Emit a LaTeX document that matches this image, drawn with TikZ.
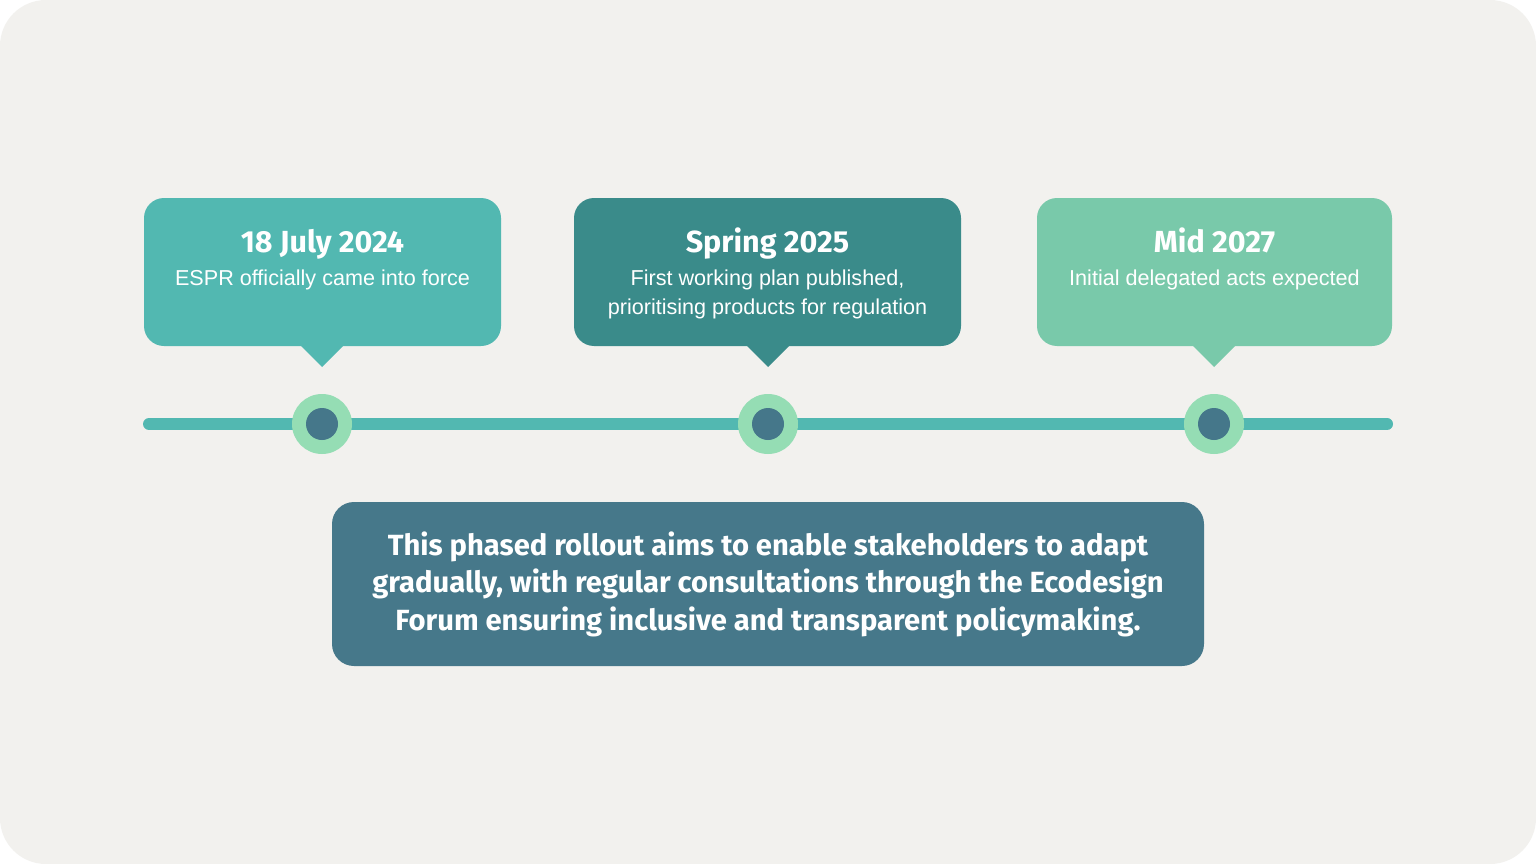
\documentclass[tikz,border=0pt]{standalone}
\usepackage{fontspec}
\setmainfont{Liberation Sans}
\newfontfamily\titlefont{Fira Sans}
\definecolor{bgc}{HTML}{F2F1EE}
\definecolor{tealA}{HTML}{52B8B1}
\definecolor{tealB}{HTML}{3A8B8A}
\definecolor{tealC}{HTML}{79C9AA}
\definecolor{notec}{HTML}{46788A}
\definecolor{ringc}{HTML}{95DDB4}
\definecolor{dotc}{HTML}{45778A}
\begin{document}
\begin{tikzpicture}[x=1pt,y=-1pt,
  card/.style={rounded corners=20pt},
  ttl/.style={text=white,font=\titlefont\bfseries\fontsize{30.5}{36}\selectfont,anchor=base,inner sep=0pt},
  sub/.style={text=white,font=\fontsize{21.6}{29}\selectfont,align=center,anchor=base,inner sep=0pt},
  ring/.style={circle,fill=ringc,minimum size=60pt,inner sep=0pt},
  dot/.style={circle,fill=dotc,minimum size=32pt,inner sep=0pt},
  notetxt/.style={text=white,font=\titlefont\bfseries\fontsize{29.2}{37.5}\selectfont,align=center}]
\useasboundingbox (0,0) rectangle (1536,864);
\fill[white] (0,0) rectangle (1536,864);
\fill[bgc,rounded corners=46pt] (0,0) rectangle (1536,864);
% cards
\fill[tealA,card] (144,198) rectangle (501,346);
\fill[tealA] (300,345) -- (344,345) -- (322,367) -- cycle;
\fill[tealB,card] (574,198) rectangle (961,346);
\fill[tealB] (746,345) -- (790,345) -- (768,367) -- cycle;
\fill[tealC,card] (1037,198) rectangle (1392,346);
\fill[tealC] (1192,345) -- (1236,345) -- (1214,367) -- cycle;
\node[ttl] (t1) at (322.5,252) {18 July 2024};
\node[sub] (s1) at (322.5,285) {ESPR officially came into force};
\node[ttl] (t2) at (767.5,252) {Spring 2025};
\node[sub] (s2) at (767.5,314) {First working plan published,\\prioritising products for regulation};
\node[ttl] (t3) at (1214.5,252) {Mid 2027};
\node[sub] (s3) at (1214.5,285) {Initial delegated acts expected};
% timeline
\coordinate (la) at (149,424);
\coordinate (lb) at (1387,424);
\draw[tealA,line width=12pt,line cap=round] (la) -- (lb);
\node[ring] (r1) at (322,424) {};
\node[dot] (d1) at (322,424) {};
\node[ring] (r2) at (768,424) {};
\node[dot] (d2) at (768,424) {};
\node[ring] (r3) at (1214,424) {};
\node[dot] (d3) at (1214,424) {};
% note
\fill[notec,rounded corners=22pt] (332,502) rectangle (1204,666);
\node[notetxt] (note) at (768,584) {This phased rollout aims to enable stakeholders to adapt\\gradually, with regular consultations through the Ecodesign\\Forum ensuring inclusive and transparent policymaking.};
\end{tikzpicture}
\end{document}
